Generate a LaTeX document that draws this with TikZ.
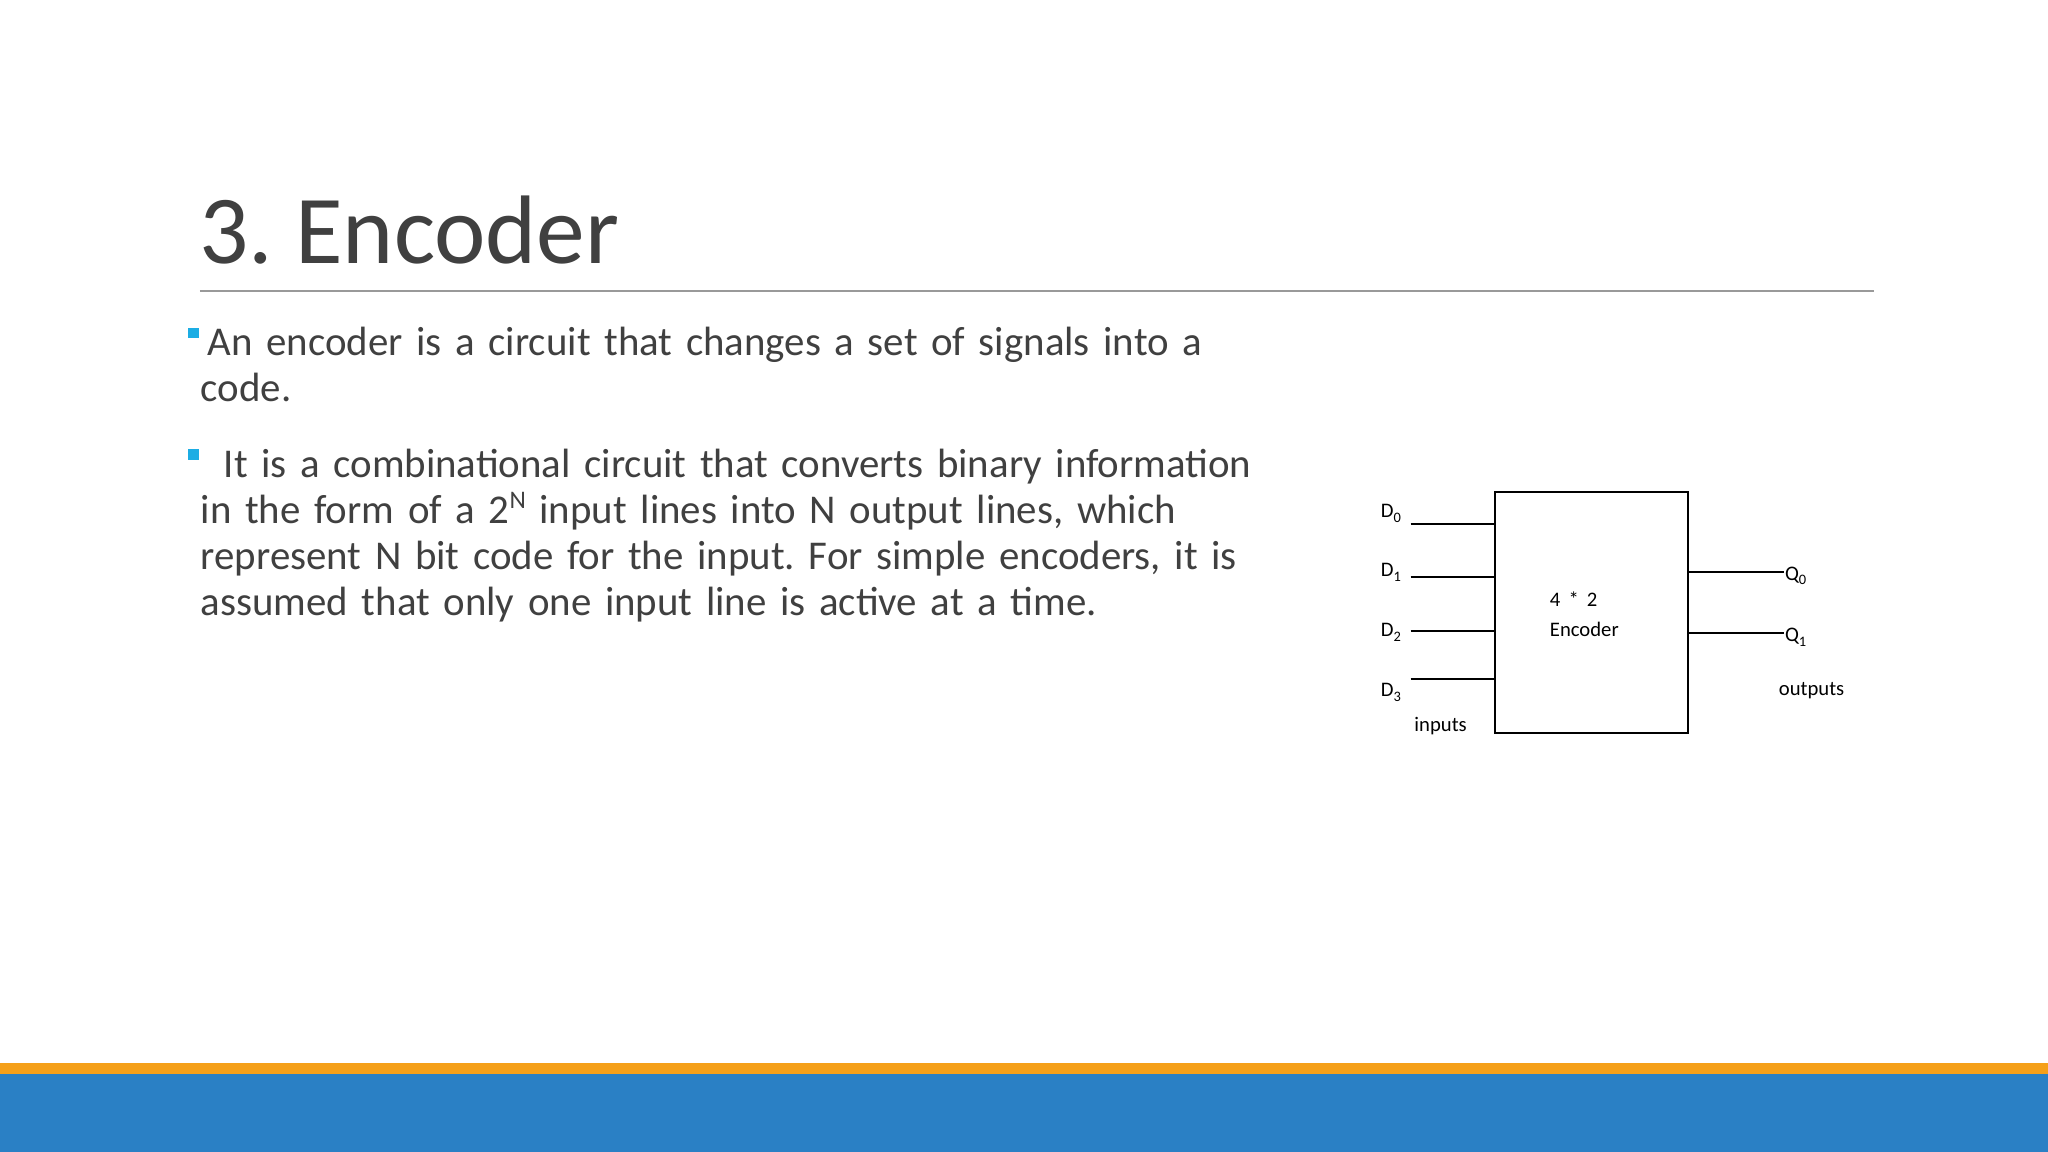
\documentclass[tikz,border=0pt]{standalone}
\usepackage{fontspec}
\setmainfont{Carlito}
\frenchspacing
\definecolor{txt}{HTML}{404040}
\definecolor{bul}{HTML}{1CADE4}
\definecolor{orng}{HTML}{F5A01A}
\definecolor{blu}{HTML}{2A80C5}
\newcommand{\supN}{\raisebox{0.75ex}{\fontsize{5.5}{6}\selectfont N}}
\newcommand{\bodyfont}{\fontsize{8.9}{10}\selectfont\frenchspacing\spaceskip=0.19em plus 0.05em\relax}
\begin{document}
\begin{tikzpicture}[x=0.01cm,y=-0.01cm,
  body/.style={anchor=north west,inner sep=0,text=txt,font=\bodyfont,align=left,text width=9cm},
  lab/.style={inner sep=0,font=\fontsize{4.5}{5.5}\selectfont},
  wire/.style={line width=0.45pt}]
\useasboundingbox (0,0) rectangle (1568,882);
\fill[orng] (0,814) rectangle (1568,823);
\fill[blu] (0,822) rectangle (1568,882);
\node[anchor=base west,inner sep=0,text=txt,font=\fontsize{21.2}{24}\selectfont] (title) at (152,202) {3. Encoder};
\draw[gray!80,line width=0.4pt] (153,223) -- (1435,223);
\fill[bul] (144,251) rectangle (152,259);
\fill[bul] (144,344) rectangle (152,352);
\node[body] (b1) at (153,250) {\hspace*{1.5pt}An encoder is a circuit that changes a set of signals into a\\code.};
\node[body] (b2) at (153,343) {\hspace*{5pt}It is a combinational circuit that converts binary information\\in the form of a 2\supN{} input lines into N output lines, which\\represent N bit code for the input. For simple encoders, it is\\assumed that only one input line is active at a time.};
\node[draw,wire,minimum width=1.47cm,minimum height=1.84cm,inner sep=0] (enc) at (1218.5,469) {};
\node[lab,anchor=west,align=left] (el) at (1186,470) {4 \,*\, 2\\[1pt]Encoder};
\foreach \i/\y/\ly in {0/401/393,1/442/438,2/483/484,3/520/530}{
  \coordinate (d\i) at (1080,\y);
  \draw[wire] (d\i) -- (enc.west |- d\i);
  \node[lab,anchor=east] (dl\i) at (1075,\ly) {D\textsubscript{\i}};
}
\foreach \i/\y in {0/438,1/485}{
  \node[lab,anchor=west] (q\i) at (1366,\y+3) {Q\textsubscript{\i}};
  \draw[wire] (enc.east |- 0,\y) -- (q\i.west |- 0,\y);
}
\node[lab] (in) at (1103,556) {inputs};
\node[lab] (out) at (1387,529) {outputs};
\end{tikzpicture}
\end{document}
